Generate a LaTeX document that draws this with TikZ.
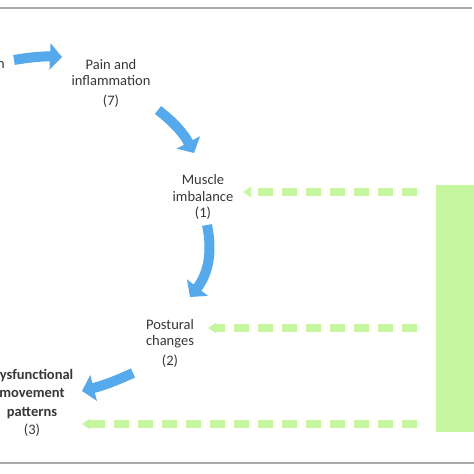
\documentclass[tikz,border=0pt]{standalone}
\usepackage{fontspec}
\setmainfont{Carlito}
\usetikzlibrary{arrows.meta}
\definecolor{bluearr}{RGB}{86,170,235}
\definecolor{greenl}{RGB}{198,246,160}
\definecolor{txt}{RGB}{55,55,55}
\definecolor{framec}{RGB}{170,170,170}
\tikzset{
  lbl/.style={text=txt, align=center, inner sep=0pt, font=\fontsize{14.5}{16.5}\selectfont},
  barrow/.style={draw=bluearr, line width=10pt, -{Triangle[width=26pt,length=12pt]}},
  garrow/.style={draw=greenl, line width=8pt, dash pattern=on 15pt off 9pt, -{Triangle[width=10pt,length=8pt]}},
}
\begin{document}
\begin{tikzpicture}[x=1pt,y=-1pt]
\useasboundingbox (0,0) rectangle (474,474);
\fill[white] (0,0) rectangle (474,474);
% frame lines
\draw[framec, line width=1.5pt] (0,8) -- (472,8);
\draw[framec, line width=1.5pt] (0,463) -- (474,463);
% green box
\node[fill=greenl, minimum width=44pt, minimum height=247pt, inner sep=0pt, anchor=north west] (box) at (436,185) {};
% texts
\node[lbl, anchor=east] (prev) at (5,65) {n};
\node[lbl] (pain) at (111,83) {Pain and\\inflammation\\[3pt](7)};
\node[lbl] (muscle) at (203,197) {Muscle\\imbalance\\(1)};
\node[lbl] (postural) at (170,343) {Postural\\changes\\[3pt](2)};
\node[lbl, font=\fontsize{14.5}{18.5}\selectfont] (dysf) at (32,403) {\textbf{Dysfunctional}\\\textbf{movement}\\\textbf{patterns}\\(3)};
% blue arrow coordinates
\coordinate (a1s) at (14,60);
\coordinate (a1e) at (62,57);
\coordinate (a2s) at (158,110);
\coordinate (a2e) at (194,153);
\coordinate (a3s) at (207,225);
\coordinate (a3e) at (190,297);
\coordinate (a4s) at (133,373);
\coordinate (a4e) at (82,391);
\draw[barrow] (a1s) to[bend left=6] (a1e);
\draw[barrow] (a2s) to[bend left=12] (a2e);
\draw[barrow] (a3s) to[bend left=25] (a3e);
\draw[barrow] (a4s) to[bend left=5] (a4e);
% green dashed arrows
\coordinate (g1s) at (417,192);
\coordinate (g1e) at (243,192);
\coordinate (g2s) at (417,328);
\coordinate (g2e) at (208,328);
\coordinate (g3s) at (417,424);
\coordinate (g3e) at (82,424);
\draw[garrow] (g1s) -- (g1e);
\draw[garrow] (g2s) -- (g2e);
\draw[garrow] (g3s) -- (g3e);
\end{tikzpicture}
\end{document}
